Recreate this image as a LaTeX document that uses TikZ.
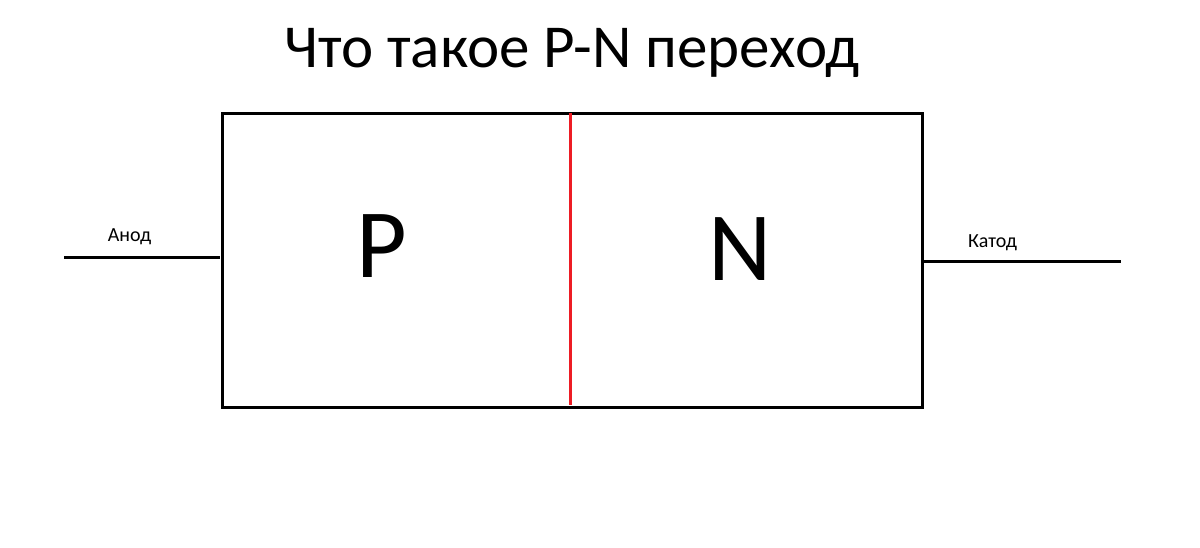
\documentclass[tikz,border=0pt]{standalone}
\usepackage{fontspec}
\setmainfont{Carlito}
\definecolor{pnred}{HTML}{ED1C24}
\begin{document}
\begin{tikzpicture}[x=1pt,y=-1pt,
  wire/.style={line width=3pt},
  lbl/.style={inner sep=0pt,anchor=base,font=\fontsize{20}{24}\selectfont},
  big/.style={inner sep=0pt,anchor=base,font=\fontsize{98}{110}\selectfont}]
\useasboundingbox (0,0) rectangle (1200,548);
\node[draw,line width=3pt,minimum width=700pt,minimum height=294pt,inner sep=0pt,anchor=north west] (box) at (220.5,112) {};
\coordinate (jt) at (570.5,113.5);
\coordinate (jb) at (570.5,404.5);
\draw[line width=3pt,pnred] (jt) -- (jb);
\coordinate (la) at (64,258);
\coordinate (lb) at (220,258);
\coordinate (ra) at (921,262);
\coordinate (rb) at (1121,262);
\draw[wire] (la) -- (lb);
\draw[wire] (ra) -- (rb);
\node[inner sep=0pt,anchor=base,font=\fontsize{61}{70}\selectfont] (title) at (572,68) {Что такое P-N переход};
\node[big] (p) at (382,278) {P};
\node[big] (n) at (740,280) {N};
\node[lbl] (anod) at (129.5,242) {Анод};
\node[lbl] (katod) at (992.5,248) {Катод};
\end{tikzpicture}
\end{document}
